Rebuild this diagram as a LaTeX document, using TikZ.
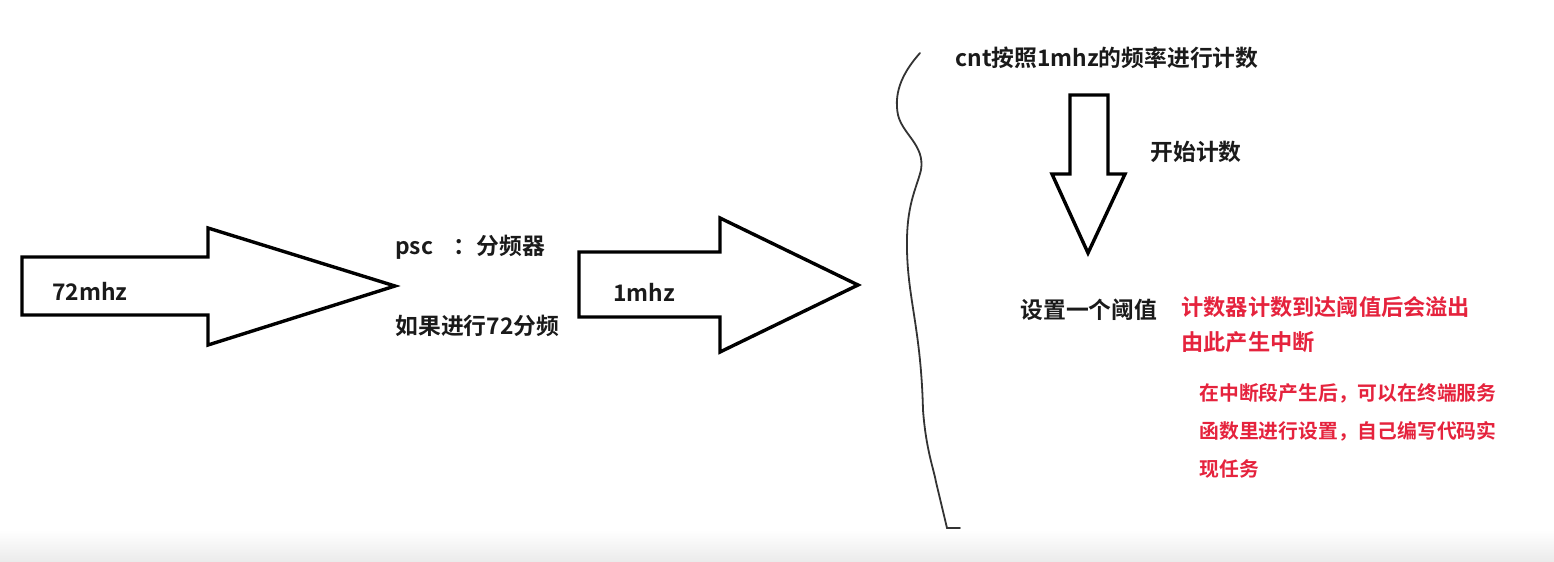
\documentclass[tikz,border=0pt]{standalone}
\usepackage{fontspec}
\newfontfamily\cjk{Noto Sans CJK SC}[BoldFont={Noto Sans CJK SC Bold}]
\definecolor{redtxt}{HTML}{E5233D}
\definecolor{ink}{HTML}{1A1A1A}
\begin{document}
\begin{tikzpicture}[x=0.5pt,y=-0.5pt,
  bigarrow/.style={draw=black,line width=1.7pt,fill=white,line join=miter},
  lbl/.style={font=\cjk\bfseries\fontsize{11.4}{13}\selectfont,text=ink,inner sep=0pt,anchor=west},
  redlbl/.style={font=\cjk\bfseries\fontsize{11.1}{17.5}\selectfont,text=redtxt,inner sep=0pt,anchor=north west,align=left},
  redpar/.style={font=\cjk\bfseries\fontsize{9.9}{19}\selectfont,text=redtxt,inner sep=0pt,anchor=north west,align=left},
  wavy/.style={draw=black!80,line width=0.9pt,line cap=round}]
\useasboundingbox (0,0) rectangle (1554,562);
\fill[white] (0,0) rectangle (1554,562);
\shade[top color=white,bottom color=black!8] (0,530) rectangle (1554,562);

% arrow 1
\draw[bigarrow] (22,257) -- (208,257) -- (208,228) -- (395,286) -- (208,345) -- (208,315) -- (22,315) -- cycle;
\node[lbl] (f72) at (52,291) {72mhz};

% labels between arrows
\node[lbl] (psc) at (395,247) {psc\hspace{0.9em}：分频器};
\node[lbl] (div) at (395,326) {如果进行72分频};

% arrow 2
\draw[bigarrow] (579,252) -- (720,252) -- (720,218) -- (858,285) -- (720,352) -- (720,317) -- (579,317) -- cycle;
\node[lbl] (f1) at (613,292) {1mhz};

% wavy separator
\coordinate (w0) at (920,53);
\coordinate (w1) at (960,528);
\draw[wavy] (w0) .. controls (905,70) and (893,90) .. (898,115)
  .. controls (903,135) and (925,145) .. (921,170)
  .. controls (916,190) and (906,205) .. (907,250)
  .. controls (908,300) and (921,330) .. (923,410)
  .. controls (926,450) and (934,470) .. (936,482)
  -- (947,528) -- (w1);

% top text
\node[lbl] (cnt) at (955,58) {cnt按照1mhz的频率进行计数};

% down arrow
\draw[bigarrow] (1070,95) -- (1108,95) -- (1108,174) -- (1125,174) -- (1088,253) -- (1052,174) -- (1070,174) -- cycle;
\node[lbl] (start) at (1150,152) {开始计数};

\node[lbl] (thr) at (1020,310) {设置一个阈值};
\node[redlbl] (ovf) at (1181,296) {计数器计数到达阈值后会溢出\\由此产生中断};
\node[redpar] (isr) at (1199,383) {在中断段产生后，可以在终端服务\\函数里进行设置，自己编写代码实\\现任务};
\end{tikzpicture}
\end{document}
